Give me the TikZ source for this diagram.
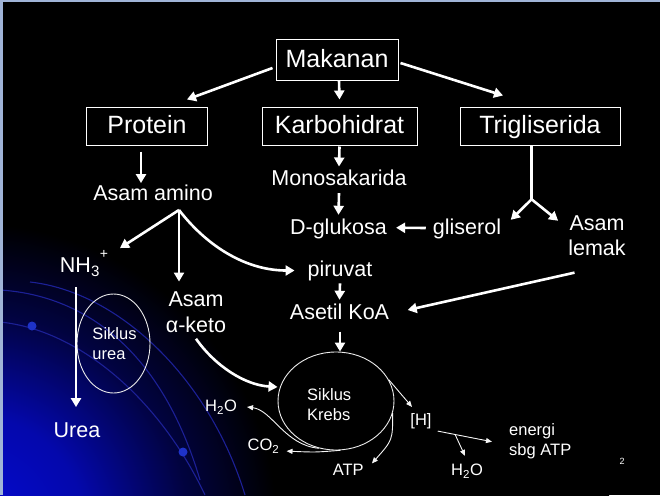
\documentclass[tikz,border=0pt]{standalone}
\usepackage{fontspec}
\setmainfont{Liberation Sans}
\usetikzlibrary{calc,
	positioning,
	arrows.meta,
	shapes.geometric}
\definecolor{slideblue}{RGB}{5,10,215}
\definecolor{arcblue}{RGB}{28,32,150}
\definecolor{dotblue}{RGB}{30,50,200}
\definecolor{framegray}{RGB}{160,180,215}
\pgfdeclareradialshading{slideglow}{\pgfpoint{0bp}{0bp}}{color(0bp)=(slideblue);
	color(4.5bp)=(slideblue!80!black);
	color(8.5bp)=(slideblue!30!black);
	color(12bp)=(black);
	color(50bp)=(black)}
\newcommand{\szbig}{\fontsize{25}{30}\selectfont}
\newcommand{\szmid}{\fontsize{21.5}{25.5}\selectfont}
\newcommand{\szsmall}{\fontsize{16.5}{20}\selectfont}
\tikzstyle{bx}=[draw=white, line width=1pt, text=white, font=\szbig, minimum height=38pt, text height=17.9pt, text depth=3pt, inner sep=0]
\tikzstyle{txtm}=[text=white, font=\szmid, inner sep=0, text height=15.4pt, text depth=0pt]
\tikzstyle{txtmm}=[text=white, font=\szmid, inner sep=0, align=center]
\tikzstyle{txts}=[text=white, font=\szsmall, inner sep=0, text height=11.8pt, text depth=0pt]
\tikzstyle{txtsm}=[text=white, font=\szsmall, inner sep=0, align=left]
\tikzstyle{cyc}=[draw=white!85!gray, line width=0.9pt, ellipse, inner sep=0]
\tikzstyle{arr}=[white, line width=2.6pt, -{Triangle[length=9pt,width=10pt]}]
\tikzstyle{thk}=[white, line width=2.6pt]
\tikzstyle{tarr}=[white!92!gray, line width=0.9pt, -{Triangle[length=6pt,width=5pt]}]
\begin{document}
\begin{tikzpicture}[x=1pt,y=-1pt]
\useasboundingbox (0,0) rectangle (660,495);
\begin{scope}
    \clip (0,0) rectangle (660,495);
    \fill[black] (0,0) rectangle (660,495);
    \shade[shading=slideglow] (-30,530) circle (640);
    \draw[arcblue, line width=1.1pt] (0,290) .. controls (80,295) and (160,345) .. (200,480);
    \draw[arcblue, line width=1.1pt] (0,322) .. controls (80,330) and (160,400) .. (205,495);
    \draw[arcblue, line width=1.1pt] (30,282) .. controls (120,292) and (210,380) .. (245,495);
    \fill[dotblue] (32,326) circle (4.5);
    \fill[dotblue] (183,452) circle (4.5);
    \fill[framegray] (0,0) rectangle (3,495);
    \fill[framegray] (0,0) rectangle (660,2);
\end{scope}
\node[bx, minimum width=122pt, minimum height=40pt] (mak) at (337,60) {Makanan};
\node[bx, minimum width=121pt] (prot) at (147,126) {Protein};
\node[bx, minimum width=155pt] (karb) at (339.5,126) {Karbohidrat};
\node[bx, minimum width=160pt] (trig) at (540,126) {Trigliserida};
\node[txtm] (amino) at (153,192.5) {Asam amino};
\node[txtm] (mono) at (339,178) {Monosakarida};
\node[txtm] (gluk) at (338.5,226.7) {D-glukosa};
\node[txtm] (glis) at (467,227) {gliserol};
\node[txtmm] (lemak) at (597,235.5) {Asam\\lemak};
\node[txtm] (nh3) at (84,265) {NH\textsubscript{3}\raisebox{14pt}{\fontsize{14}{14}\selectfont +}};
\node[txtm] (urea) at (77,430) {Urea};
\node[txtmm] (keto) at (196,312) {Asam\\α-keto};
\node[txtm] (piru) at (340,268.5) {piruvat};
\node[txtm] (asetil) at (339.5,311.7) {Asetil KoA};
\node[cyc, minimum width=116pt, minimum height=98pt] (krebs) at (336,401) {};
\node[txtsm] (krebstxt) at (329.2,404.2) {Siklus\\Krebs};
\node[cyc, minimum width=73pt, minimum height=99pt] (ucyc) at (113.5,343.5) {};
\node[txtsm] (ucyctxt) at (114.5,343.3) {Siklus\\urea};
\node[txts] (h2ol) at (221,406) {H\textsubscript{2}O};
\node[txts] (co2) at (263.5,445) {CO\textsubscript{2}};
\node[txts] (atp) at (348.3,469.5) {ATP};
\node[txts] (hbr) at (421,420) {[H]};
\node[txtsm, anchor=west] (energi) at (509,441.7) {energi\\sbg ATP};
\node[txts] (h2or) at (467,470) {H\textsubscript{2}O};
\node[text=white, font=\fontsize{9}{10}\selectfont, inner sep=0] (pg) at (622,461) {2};
\coordinate (fk1) at (179,210);
\coordinate (fk2) at (531.6,199.3);
\draw[arr] ($(mak.west)+(-3,8)$) -- ($(prot.north)+(40,-7)$);
\draw[arr] ($(mak.south)+(2,0)$) -- ($(karb.north)+(0,-7)$);
\draw[arr] ($(mak.east)+(2,3)$) -- ($(trig.north)+(-37,-11)$);
\draw[arr] ($(prot.south)+(-6,6)$) -- ($(amino.north)+(-12,-1.5)$);
\draw[arr] ($(karb.south)+(0,1)$) -- ($(mono.north)+(0,-3.6)$);
\draw[arr] ($(mono.south)+(0,7.3)$) -- ($(gluk.north)+(0,-4)$);
\draw[arr] ($(glis.west)+(-7,1)$) -- ($(gluk.east)+(9,1)$);
\draw[thk] (fk2 |- trig.south) -- (fk2);
\draw[arr] (fk2) -- ($(glis.north east)+(9.5,0.7)$);
\draw[arr] (fk2) -- ($(lemak.north west)+(-10,5.7)$);
\draw[arr] (fk1) -- ($(nh3.north)+(36,-9)$);
\draw[arr] (fk1) -- ($(keto.north)+(-17,-10)$);
\draw[arr] (fk1) .. controls +(31,40) and +(-45,0) .. ($(piru.west)+(-13,2)$);
\draw[arr] ($(nh3.south)+(-8,14)$) -- ($(urea.north)+(-1,-15)$);
\draw[arr] ($(lemak.south)+(-22.5,16.7)$) -- ($(asetil.east)+(18.4,-1.7)$);
\draw[arr] ($(piru.south)+(0,7)$) -- ($(asetil.north)+(0,-4)$);
\draw[arr] ($(asetil.south)+(0.5,12)$) -- ($(krebs.north)+(4,0)$);
\draw[arr] ($(keto.south)+(0,6.3)$) .. controls +(19,27) and +(-33,-2) .. ($(krebs.west)+(0,-14)$);
\draw[tarr] (krebs.250) .. controls +(-34,-3) and +(25,3) .. ($(h2ol.east)+(10,1)$);
\draw[tarr] (krebs.275) .. controls +(-25,2) .. ($(co2.south east)+(7,0)$);
\draw[tarr] (krebs.348) .. controls +(0,27) .. ($(atp.north east)+(8,0)$);
\draw[tarr] (krebs.22) -- ($(hbr.north)+(-9,-7)$);
\draw[tarr] ($(hbr.south east)+(6,5)$) -- coordinate[pos=0.32] (hsp) ($(energi.west)+(-17,0)$);
\draw[tarr] (hsp) -- ($(h2or.north)+(-2,-8)$);
\end{tikzpicture}
\end{document}
